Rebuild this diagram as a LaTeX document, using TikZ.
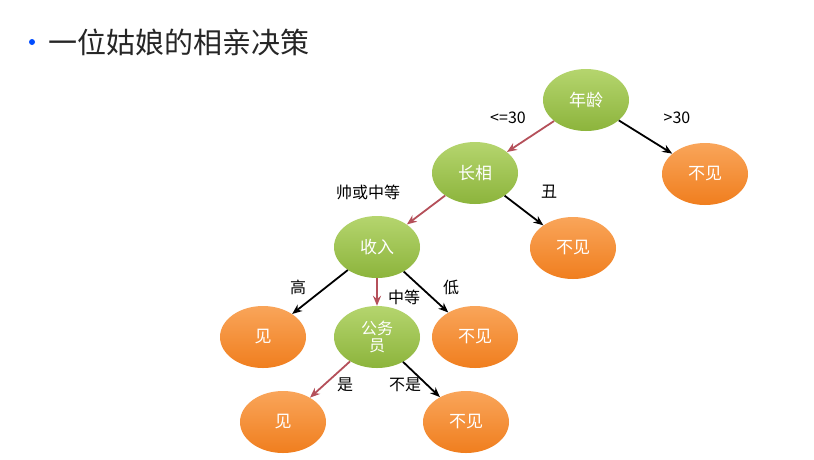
\documentclass[tikz,border=0pt]{standalone}
\usepackage{fontspec}
\newfontfamily\cjk{Noto Sans CJK SC}
\usetikzlibrary{shapes.geometric,arrows.meta}
\definecolor{gr}{HTML}{8CB43C}
\definecolor{grl}{HTML}{B5D56E}
\definecolor{orr}{HTML}{F07E1E}
\definecolor{orl}{HTML}{F9A55A}
\definecolor{redl}{HTML}{B5505A}
\begin{document}
\begin{tikzpicture}[x=1pt,y=-1pt,
  gnode/.style={ellipse,minimum width=86pt,minimum height=62pt,inner sep=0pt,
    top color=grl,bottom color=gr,draw=none,text=white,font=\cjk\fontsize{17}{19}\selectfont},
  onode/.style={gnode,top color=orl,bottom color=orr},
  redar/.style={-{Stealth[length=10pt,width=8pt]},draw=redl,line width=1.8pt},
  blkar/.style={-{Stealth[length=10pt,width=8pt]},draw=black,line width=1.8pt},
  lab/.style={font=\cjk\fontsize{16}{18}\selectfont,text=black}]
\useasboundingbox[fill=white] (0,0) rectangle (814,459);
\fill[blue!70!cyan] (32,42) circle (3pt);
\node[anchor=west,font=\cjk\fontsize{29}{32}\selectfont,text=black!85] (title) at (45,42) {一位姑娘的相亲决策};
\node[gnode] (age) at (586,100) {年龄};
\node[gnode] (look) at (475,173) {长相};
\node[onode] (n1) at (705,174) {不见};
\node[gnode] (inc) at (377,247) {收入};
\node[onode] (n2) at (573,248) {不见};
\node[onode] (y1) at (263,337) {见};
\node[gnode,align=center,font=\cjk\fontsize{16}{17}\selectfont] (civ) at (377,337) {公务\\员};
\node[onode] (n3) at (475,337) {不见};
\node[onode] (y2) at (283,422) {见};
\node[onode] (n4) at (466,422) {不见};
\draw[redar] (age) -- (look);
\draw[blkar] (age) -- (n1);
\draw[redar] (look) -- (inc);
\draw[blkar] (look) -- (n2);
\draw[blkar] (inc) -- (y1);
\draw[redar] (inc) -- (civ);
\draw[blkar] (inc) -- (n3);
\draw[redar] (civ) -- (y2);
\draw[blkar] (civ) -- (n4);
\node[lab] (l1) at (508,118) {<=30};
\node[lab] (l2) at (677,118) {>30};
\node[lab] (l3) at (368,192) {帅或中等};
\node[lab] (l4) at (549,192) {丑};
\node[lab] (l5) at (298,287) {高};
\node[lab] (l6) at (404,297) {中等};
\node[lab] (l7) at (451,287) {低};
\node[lab] (l8) at (345,385) {是};
\node[lab] (l9) at (405,385) {不是};
\end{tikzpicture}
\end{document}
